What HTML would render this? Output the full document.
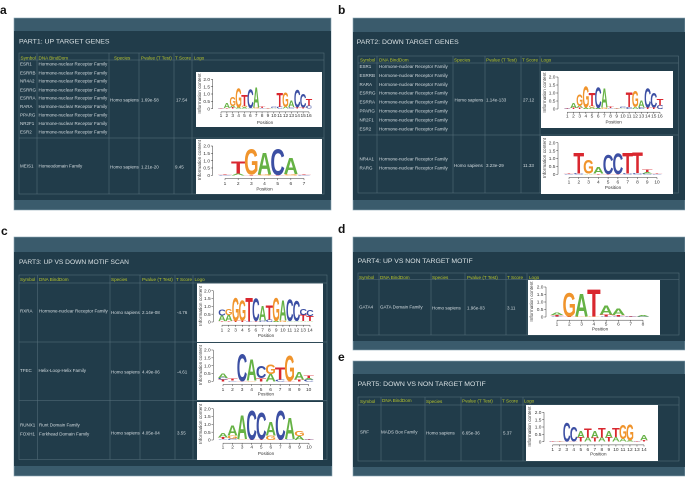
<!DOCTYPE html>
<html lang="en">
<head>
<meta charset="utf-8">
<title>Motif scan result panels</title>
<style>
html,body{margin:0;padding:0;background:#fff;width:685px;height:477px;overflow:hidden}
svg{display:block;font-family:"Liberation Sans",sans-serif;filter:blur(.22px)}
.band{fill:#3a5b6c;stroke:#8aa5b2;stroke-width:.6}
.body{fill:#213c4a}
.frame{fill:none;stroke:#5a737f;stroke-width:.5}
.rule{stroke:#5a737f;stroke-width:.5}
.title{font-size:6.4px;fill:#d8e0e3}
.t{font-size:4.5px;fill:#d3dbdf}
.h{font-size:4.6px;fill:#b8c42c}
.lab{font-size:12px;font-weight:bold;fill:#111}
</style>
</head>
<body>
<svg id="fig" width="685" height="477" viewBox="0 0 685 477" xmlns="http://www.w3.org/2000/svg">
<rect width="685" height="477" fill="#fff"/>
<text class="lab" x="0" y="14">a</text>
<text class="lab" x="338" y="14">b</text>
<text class="lab" x="1" y="235">c</text>
<text class="lab" x="338" y="233">d</text>
<text class="lab" x="338" y="361">e</text>

<g>
<rect class="band" x="14" y="18" width="317" height="192"/>
<rect class="body" x="14" y="31" width="317" height="169"/>
<text class="title" x="19" y="43.5" textLength="90.5" lengthAdjust="spacingAndGlyphs">PART1: UP TARGET GENES</text>
<rect class="frame" x="19" y="53" width="305" height="141"/>
<line class="rule" x1="19" x2="324" y1="60" y2="60"/>
<line class="rule" x1="19" x2="324" y1="138" y2="138"/>
<line class="rule" x1="37" x2="37" y1="53" y2="194"/>
<line class="rule" x1="109" x2="109" y1="53" y2="194"/>
<line class="rule" x1="139" x2="139" y1="53" y2="194"/>
<line class="rule" x1="174" x2="174" y1="53" y2="194"/>
<line class="rule" x1="192" x2="192" y1="53" y2="194"/>
<text class="h" x="20.5" y="59.4">Symbol</text>
<text class="h" x="38.5" y="59.4">DNA BindDom</text>
<text class="h" x="114" y="59.4">Species</text>
<text class="h" x="141" y="59.4">Pvalue (T Test)</text>
<text class="h" x="175" y="59.4">T Score</text>
<text class="h" x="194" y="59.4">Logo</text>
<text class="t" x="20" y="65.3">ESR1</text>
<text class="t" x="38.5" y="65.3">Hormone-nuclear Receptor Family</text>
<text class="t" x="20" y="74.3">ESRRB</text>
<text class="t" x="38.5" y="74.3">Hormone-nuclear Receptor Family</text>
<text class="t" x="20" y="82.6">NR4A2</text>
<text class="t" x="38.5" y="82.6">Hormone-nuclear Receptor Family</text>
<text class="t" x="20" y="91.3">ESRRG</text>
<text class="t" x="38.5" y="91.3">Hormone-nuclear Receptor Family</text>
<text class="t" x="20" y="99.6">ESRRA</text>
<text class="t" x="38.5" y="99.6">Hormone-nuclear Receptor Family</text>
<text class="t" x="20" y="107.9">RARA</text>
<text class="t" x="38.5" y="107.9">Hormone-nuclear Receptor Family</text>
<text class="t" x="20" y="116.6">PPARG</text>
<text class="t" x="38.5" y="116.6">Hormone-nuclear Receptor Family</text>
<text class="t" x="20" y="124.9">NR2F1</text>
<text class="t" x="38.5" y="124.9">Hormone-nuclear Receptor Family</text>
<text class="t" x="20" y="133.6">ESR2</text>
<text class="t" x="38.5" y="133.6">Hormone-nuclear Receptor Family</text>
<text class="t" x="110" y="101.6">Homo sapiens</text>
<text class="t" x="141" y="101.6">1.69e-58</text>
<text class="t" x="176" y="101.6">17.54</text>
<text class="t" x="20" y="167.3">MEIS1</text>
<text class="t" x="38.5" y="167.3">Homeodomain Family</text>
<text class="t" x="110" y="168.6">Homo sapiens</text>
<text class="t" x="141" y="168.6">1.21e-20</text>
<text class="t" x="175" y="168.6">9.45</text>
</g>

<g>
<rect class="band" x="353" y="18" width="332" height="192"/>
<rect class="body" x="353" y="32" width="332" height="168"/>
<text class="title" x="356.7" y="43.9" textLength="102" lengthAdjust="spacingAndGlyphs">PART2: DOWN TARGET GENES</text>
<rect class="frame" x="358" y="56" width="320.500" height="137"/>
<line class="rule" x1="358" x2="678.500" y1="63" y2="63"/>
<line class="rule" x1="358" x2="678.500" y1="135" y2="135"/>
<line class="rule" x1="377" x2="377" y1="56" y2="193"/>
<line class="rule" x1="453" x2="453" y1="56" y2="193"/>
<line class="rule" x1="485" x2="485" y1="56" y2="193"/>
<line class="rule" x1="521" x2="521" y1="56" y2="193"/>
<line class="rule" x1="540" x2="540" y1="56" y2="193"/>
<text class="h" x="360" y="61.600">Symbol</text>
<text class="h" x="379" y="61.600">DNA BindDom</text>
<text class="h" x="454" y="61.600">Species</text>
<text class="h" x="486" y="61.600">Pvalue (T Test)</text>
<text class="h" x="522" y="61.600">T Score</text>
<text class="h" x="541" y="61.600">Logo</text>
<text class="t" x="359.500" y="67.9">ESR1</text>
<text class="t" x="379" y="67.9">Hormone-nuclear Receptor Family</text>
<text class="t" x="359.500" y="76.9">ESRRB</text>
<text class="t" x="379" y="76.9">Hormone-nuclear Receptor Family</text>
<text class="t" x="359.500" y="85.9">RARA</text>
<text class="t" x="379" y="85.9">Hormone-nuclear Receptor Family</text>
<text class="t" x="359.500" y="94.6">ESRRG</text>
<text class="t" x="379" y="94.6">Hormone-nuclear Receptor Family</text>
<text class="t" x="359.500" y="103.6">ESRRA</text>
<text class="t" x="379" y="103.6">Hormone-nuclear Receptor Family</text>
<text class="t" x="359.500" y="112.3">PPARG</text>
<text class="t" x="379" y="112.3">Hormone-nuclear Receptor Family</text>
<text class="t" x="359.500" y="121.3">NR2F1</text>
<text class="t" x="379" y="121.3">Hormone-nuclear Receptor Family</text>
<text class="t" x="359.500" y="130.3">ESR2</text>
<text class="t" x="379" y="130.3">Hormone-nuclear Receptor Family</text>
<text class="t" x="454.500" y="101.3">Homo sapiens</text>
<text class="t" x="486" y="101.3">1.14e-133</text>
<text class="t" x="523" y="101.3">27.12</text>
<text class="t" x="359.500" y="160.3">NR4A1</text>
<text class="t" x="379" y="160.3">Hormone-nuclear Receptor Family</text>
<text class="t" x="359.500" y="169.6">RARG</text>
<text class="t" x="379" y="169.6">Hormone-nuclear Receptor Family</text>
<text class="t" x="454" y="166.9">Homo sapiens</text>
<text class="t" x="486" y="166.9">3.23e-29</text>
<text class="t" x="523" y="166.9">11.33</text>
</g>

<g>
<rect class="band" x="14" y="237" width="318" height="239"/>
<rect class="body" x="14" y="252" width="318" height="214"/>
<text class="title" x="19" y="264.200" textLength="110" lengthAdjust="spacingAndGlyphs">PART3: UP VS DOWN MOTIF SCAN</text>
<rect class="frame" x="19" y="275" width="308" height="184.500"/>
<line class="rule" x1="19" x2="327" y1="283" y2="283"/>
<line class="rule" x1="19" x2="327" y1="342" y2="342"/>
<line class="rule" x1="19" x2="327" y1="400.500" y2="400.500"/>
<line class="rule" x1="37.500" x2="37.500" y1="275" y2="459.500"/>
<line class="rule" x1="110" x2="110" y1="275" y2="459.500"/>
<line class="rule" x1="140" x2="140" y1="275" y2="459.500"/>
<line class="rule" x1="175" x2="175" y1="275" y2="459.500"/>
<line class="rule" x1="193" x2="193" y1="275" y2="459.500"/>
<text class="h" x="20" y="280.900">Symbol</text>
<text class="h" x="39" y="280.900">DNA BindDom</text>
<text class="h" x="111" y="280.900">Species</text>
<text class="h" x="142" y="280.900">Pvalue (T Test)</text>
<text class="h" x="176" y="280.900">T Score</text>
<text class="h" x="194.500" y="280.900">Logo</text>
<text class="t" x="20" y="312.600">RXRA</text>
<text class="t" x="39" y="312.600">Hormone-nuclear Receptor Family</text>
<text class="t" x="111" y="314.100">Homo sapiens</text>
<text class="t" x="142" y="314.100">2.14e-08</text>
<text class="t" x="177" y="314.100">-4.76</text>
<text class="t" x="20" y="371.900">TFEC</text>
<text class="t" x="38.500" y="371.900">Helix-Loop-Helix Family</text>
<text class="t" x="111" y="373.600">Homo sapiens</text>
<text class="t" x="142" y="373.600">4.49e-06</text>
<text class="t" x="177" y="373.600">-4.61</text>
<text class="t" x="20" y="426.300">RUNX1</text>
<text class="t" x="39" y="426.300">Runt Domain Family</text>
<text class="t" x="20" y="435.300">FOXH1</text>
<text class="t" x="39" y="435.300">Forkhead Domain Family</text>
<text class="t" x="111" y="434.600">Homo sapiens</text>
<text class="t" x="142" y="434.600">4.05e-04</text>
<text class="t" x="177" y="434.600">3.55</text>
</g>

<g>
<rect class="band" x="353" y="237" width="332" height="113"/>
<rect class="body" x="353" y="252" width="332" height="89"/>
<text class="title" x="357.700" y="263.200" textLength="115" lengthAdjust="spacingAndGlyphs">PART4: UP VS NON TARGET MOTIF</text>
<rect class="frame" x="358" y="273" width="321" height="62"/>
<line class="rule" x1="358" x2="679" y1="279.700" y2="279.700"/>
<line class="rule" x1="379" x2="379" y1="273" y2="335"/>
<line class="rule" x1="431" x2="431" y1="273" y2="335"/>
<line class="rule" x1="465" x2="465" y1="273" y2="335"/>
<line class="rule" x1="506" x2="506" y1="273" y2="335"/>
<line class="rule" x1="527" x2="527" y1="273" y2="335"/>
<text class="h" x="359" y="278.900">Symbol</text>
<text class="h" x="380" y="278.900">DNA BindDom</text>
<text class="h" x="432" y="278.900">Species</text>
<text class="h" x="467" y="278.900">Pvalue (T Test)</text>
<text class="h" x="507" y="278.900">T Score</text>
<text class="h" x="529" y="278.900">Logo</text>
<text class="t" x="359" y="308.300">GATA4</text>
<text class="t" x="380" y="308.300">GATA Domain Family</text>
<text class="t" x="432" y="309.300">Homo sapiens</text>
<text class="t" x="467" y="309.300">1.96e-03</text>
<text class="t" x="507" y="309.300">3.11</text>
</g>

<g>
<rect class="band" x="353" y="361" width="332" height="115"/>
<rect class="body" x="353" y="374" width="332" height="93"/>
<text class="title" x="357.700" y="386.200" textLength="128" lengthAdjust="spacingAndGlyphs">PART5: DOWN VS NON TARGET MOTIF</text>
<rect class="frame" x="358" y="397" width="321" height="64"/>
<line class="rule" x1="358" x2="679" y1="405" y2="405"/>
<line class="rule" x1="381" x2="381" y1="397" y2="461"/>
<line class="rule" x1="425" x2="425" y1="397" y2="461"/>
<line class="rule" x1="461" x2="461" y1="397" y2="461"/>
<line class="rule" x1="501" x2="501" y1="397" y2="461"/>
<line class="rule" x1="523" x2="523" y1="397" y2="461"/>
<text class="h" x="360" y="403">Symbol</text>
<text class="h" x="382" y="402">DNA BindDom</text>
<text class="h" x="426" y="403">Species</text>
<text class="h" x="462" y="402.600">Pvalue (T Test)</text>
<text class="h" x="502" y="402.600">T Score</text>
<text class="h" x="524" y="402.600">Logo</text>
<text class="t" x="360" y="433.300">SRF</text>
<text class="t" x="381" y="433.300">MADS Box Family</text>
<text class="t" x="426" y="434.600">Homo sapiens</text>
<text class="t" x="462" y="434.600">6.65e-36</text>
<text class="t" x="503" y="434.600">5.37</text>
</g>
<g id="logos"></g>
</svg>
<script>
// Letter heights (bits) per motif position, stacked bottom to top.
const part1TopBits = [
  [['C',.03],['T',.03]], [['T',.06],['A',.35]], [['T',.08],['A',.12],['G',.6]], [['A',.08],['G',1.3]],
  [['A',.1],['G',.1],['T',.75]], [['A',.06],['C',1.28]], [['G',.08],['A',1.35]], [['C',.05],['T',.07]],
  [['A',.03],['T',.04]], [['A',.05],['C',.07]], [['C',.12],['T',.95]], [['A',.12],['G',1.0]],
  [['C',.1],['A',.45]], [['T',.08],['C',1.2]], [['T',.08],['C',.92]], [['C',.22],['T',.42]]
];
const part1BottomBits = [
  [['C',.04],['T',.04]], [['A',.12],['T',.85]], [['T',.06],['G',1.72]], [['G',.07],['A',1.5]],
  [['T',.03],['C',1.75]], [['G',.1],['A',1.1]], [['C',.03],['T',.03]]
];
const part2TopBits = [
  [['C',.03],['T',.03]], [['T',.06],['A',.32]], [['T',.08],['A',.12],['G',.72]], [['A',.08],['G',1.35]],
  [['A',.1],['G',.1],['T',.8]], [['A',.06],['C',1.28]], [['G',.08],['A',1.2]], [['C',.05],['T',.08]],
  [['A',.03],['T',.04]], [['A',.05],['C',.07]], [['C',.12],['T',.95]], [['A',.12],['G',1.02]],
  [['C',.1],['A',.45]], [['T',.08],['C',1.2]], [['T',.08],['C',.92]], [['C',.22],['T',.42]]
];
const part2BottomBits = [
  [['C',.03],['T',.03]], [['C',.06],['T',1.32]], [['A',.05],['G',.85]], [['T',.05],['A',.4]], [['T',.03],['C',1.25]],
  [['T',.03],['C',1.3]], [['C',.06],['T',1.32]], [['C',.08],['T',1.32]], [['C',.06],['A',.08],['T',.18]], [['C',.03],['T',.03]]
];
const part3TopBits = [
  [['T',.05],['A',.35],['C',.35]], [['T',.05],['A',.4],['G',.38]], [['T',.06],['G',1.5]], [['T',.1],['G',1.3]],
  [['C',.04],['T',1.55]], [['T',.05],['C',1.45]], [['C',.08],['A',.95]], [['C',.15],['T',.9]],
  [['A',.06],['G',1.5]], [['G',.08],['A',1.28]], [['A',.05],['C',1.42]], [['A',.05],['C',1.3]],
  [['A',.05],['T',.4],['C',.38]], [['A',.05],['T',.32],['C',.38]]
];
const part3MiddleBits = [
  [['T',.1],['C',.12],['A',.28]], [['C',.05],['T',.12]], [['T',.03],['C',1.72]], [['G',.05],['A',1.38]], [['T',.2],['C',.78]],
  [['A',.48],['G',.6]], [['C',.12],['T',.8]], [['T',.03],['G',1.6]], [['T',.1],['A',.48]], [['C',.12],['A',.08],['T',.15]]
];
const part3BottomBits = [
  [['C',.05],['T',.1],['A',.28]], [['C',.08],['G',.2],['A',.68]], [['G',.05],['A',1.55]], [['T',.03],['C',1.85]], [['T',.05],['C',1.68]],
  [['G',.3],['A',.85]], [['T',.03],['C',1.85]], [['C',.05],['A',1.38]], [['A',.25],['G',.32]], [['C',.03],['T',.04]]
];
const part4Bits = [
  [['C',.05],['T',.1],['A',.15]], [['T',.03],['G',1.6]], [['G',.04],['A',1.5]], [['G',.03],['T',1.82]],
  [['C',.05],['T',.12],['A',.6]], [['C',.05],['T',.08],['A',.42]], [['C',.04],['T',.05]], [['C',.04],['A',.07]]
];
const part5Bits = [
  [['C',.03],['T',.04]], [['A',.02],['T',.03]], [['T',.03],['C',1.28]], [['T',.03],['C',1.0]], [['T',.3],['A',.42]],
  [['A',.3],['T',.62]], [['T',.28],['A',.45]], [['A',.3],['T',.65]], [['T',.3],['A',.45]], [['A',.32],['T',.62]],
  [['A',.2],['G',.95]], [['A',.07],['G',1.1]], [['C',.02],['T',.03]], [['T',.1],['A',.35]]
];
const yTickValues = [0, 0.5, 1, 1.5, 2];
const yTickLabels = ['0', '0.5', '1.0', '1.5', '2.0'];
const xAxisTitle = 'Position';
const yAxisTitle = 'Information content';
const letterColors = {A:'#66b245', C:'#3c4fa3', G:'#f0942c', T:'#d9272f'};
const letterAdvance = {A:.722, C:.722, G:.778, T:.611};

const logoLayouts = [
  {name:'part1-logo-top', bits:part1TopBits, x:196, y:72, w:126, h:55, top:79.3, base:108.7, axisX:212.7, first:221, last:309, tickY:116.9, titleY:124},
  {name:'part1-logo-bottom', bits:part1BottomBits, x:196, y:139, w:126, h:55, top:146, base:175.3, axisX:212.7, first:225, last:304, tickY:185, titleY:190.4},
  {name:'part2-logo-top', bits:part2TopBits, x:541, y:71, w:132, h:57, top:77, base:109, axisX:558, first:567.3, last:660, tickY:117.6, titleY:123.7},
  {name:'part2-logo-bottom', bits:part2BottomBits, x:541, y:136, w:132, h:58, top:142.7, base:174.3, axisX:558, first:569, last:657, tickY:183.3, titleY:189},
  {name:'part3-logo-top', bits:part3TopBits, x:197, y:283.5, w:126, h:58.5, top:290.7, base:322, axisX:213.3, first:222, last:310, tickY:331.6, titleY:336.8},
  {name:'part3-logo-middle', bits:part3MiddleBits, x:197, y:343, w:126, h:57, top:350, base:381.3, axisX:213.3, first:223, last:308.7, tickY:391, titleY:395.7},
  {name:'part3-logo-bottom', bits:part3BottomBits, x:197, y:402, w:126, h:58, top:408.7, base:440, axisX:213.3, first:223, last:309, tickY:448.3, titleY:454.8},
  {name:'part4-logo', bits:part4Bits, x:528, y:280, w:132, h:55, top:287, base:317, axisX:546, first:557, last:643, tickY:325.6, titleY:330.7},
  {name:'part5-logo', bits:part5Bits, x:526, y:405, w:132, h:56, top:412.3, base:441.7, axisX:544, first:552.7, last:644, tickY:451, titleY:455.7}
];

const svgNS = 'http://www.w3.org/2000/svg';
const logosRoot = document.getElementById('logos');

function make(tag, parent, attrs) {
  const el = document.createElementNS(svgNS, tag);
  for (const key in attrs) el.setAttribute(key, attrs[key]);
  parent.appendChild(el);
  return el;
}
function scaleY(layout, bits) {
  return layout.base - bits * (layout.base - layout.top) / 2;
}
function scaleX(layout, index) {
  return layout.first + index * (layout.last - layout.first) / (layout.bits.length - 1);
}

logoLayouts.forEach(function (layout) {
  const group = make('g', logosRoot, {});
  
  

  const bg = make('rect', group, {x:layout.x, y:layout.y, width:layout.w, height:layout.h, fill:'#fff'});
  
  

  const step = (layout.last - layout.first) / (layout.bits.length - 1);
  const fontSize = 10;
  layout.bits.forEach(function (stack, index) {
    let cumulative = 0;
    stack.forEach(function (entry) {
      const letter = entry[0];
      const yBottom = scaleY(layout, cumulative);
      const yTop = scaleY(layout, cumulative + entry[1]);
      const sx = step * 1.1 / (letterAdvance[letter] * fontSize);
      const sy = (yBottom - yTop) / (0.7 * fontSize);
      const glyph = make('text', group, {
        transform: 'translate(' + scaleX(layout, index) + ' ' + yBottom + ') scale(' + sx + ' ' + sy + ')',
        'font-size': fontSize, 'font-weight': 'bold', 'text-anchor': 'middle', fill: letterColors[letter]
      });
      glyph.textContent = letter;
      
      
      cumulative += entry[1];
    });
  });

  const yAxis = make('line', group, {x1:layout.axisX, x2:layout.axisX, y1:scaleY(layout, 2), y2:scaleY(layout, 0), stroke:'#222', 'stroke-width':.45});
  
  
  yTickValues.forEach(function (value, i) {
    const yPos = scaleY(layout, value);
    const tick = make('line', group, {x1:layout.axisX - 1.8, x2:layout.axisX, y1:yPos, y2:yPos, stroke:'#222', 'stroke-width':.45});
    
    
    const label = make('text', group, {x:layout.axisX - 2.6, y:yPos + 1.7, 'font-size':4.8, 'text-anchor':'end', fill:'#333'});
    label.textContent = yTickLabels[i];
    
    
  });

  const axisY = layout.base + 3.2;
  const xAxis = make('line', group, {x1:layout.first, x2:layout.last, y1:axisY, y2:axisY, stroke:'#222', 'stroke-width':.45});
  
  
  layout.bits.forEach(function (stack, index) {
    const xPos = scaleX(layout, index);
    const tick = make('line', group, {x1:xPos, x2:xPos, y1:axisY, y2:axisY + 1.6, stroke:'#222', 'stroke-width':.45});
    
    
    const label = make('text', group, {x:xPos, y:layout.tickY, 'font-size':4.8, 'text-anchor':'middle', fill:'#333'});
    label.textContent = String(index + 1);
    
    
  });

  const xTitle = make('text', group, {x:(layout.first + layout.last) / 2, y:layout.titleY, 'font-size':4.6, 'text-anchor':'middle', fill:'#333'});
  xTitle.textContent = xAxisTitle;
  
  

  const cy = (layout.top + layout.base) / 2 - 0.5;
  const yTitle = make('text', group, {x:0, y:0, transform:'translate(' + (layout.x + 5) + ' ' + cy + ') rotate(-90)', 'font-size':4.7, 'text-anchor':'middle', fill:'#333'});
  yTitle.textContent = yAxisTitle;
  
  
});
</script>
</body>
</html>
